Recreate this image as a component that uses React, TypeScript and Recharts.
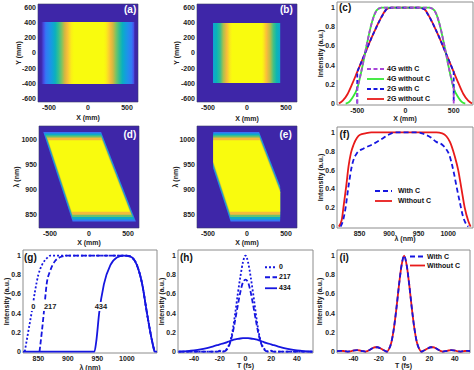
import React from 'react';
import {
  ComposedChart, Line, Area, XAxis, YAxis, ReferenceArea, ReferenceDot, Legend, CartesianGrid,
} from 'recharts';

const FONT = '"Liberation Sans", Arial, Helvetica, sans-serif';
const TEXT = '#222222';
const BG = '#3e26a8';
const LINE_FRAME = '#8c8c8c';
const HEAT_FRAME = '#3a3a6a';
const C_PURPLE = '#a846d8';
const C_GREEN = '#35e835';
const C_BLUE = '#1616e0';
const C_RED = '#e81a1a';

// ---------- data ----------
// (a) map: intensity across X; beam Y extent
const aX = [-600, -565, -540, -500, -460, -420, -380, -340, -300, -270, -240, -210, -180, 0, 200, 230, 260, 290, 320, 360, 400, 440, 480, 520, 560, 585, 600];
const aI = [0, 0.1, 0.2, 0.26, 0.33, 0.42, 0.52, 0.62, 0.75, 0.85, 0.93, 0.98, 1, 1, 1, 0.98, 0.93, 0.85, 0.75, 0.62, 0.52, 0.42, 0.33, 0.26, 0.2, 0.1, 0];
const aYRange = [-405, 405];

// (b) map: clipped profile
const bX = [-435, -390, -345, -303, -260, -217, -190, 190, 210, 250, 295, 338, 380, 425];
const bI = [0.36, 0.44, 0.52, 0.7, 0.86, 0.97, 1, 1, 0.97, 0.88, 0.72, 0.55, 0.45, 0.37];
const bYRange = [-392, 392];

// (d) map: nested parallelogram levels (intensity, top/bottom wavelength, corner X)
const dLevel = [0.2, 0.4, 0.6, 0.85, 1];
const dTop = [1014, 1011, 1007, 1003, 998];
const dBot = [837, 841, 846, 850, 856];
const dTL = [-585, -571, -554, -538, -521];
const dBL = [-210, -210, -213, -213, -220];
const dTR = [155, 155, 157, 159, 165];
const dBR = [600, 581, 561, 543, 522];
// (e) map: same levels clipped by aperture
const eCutL = -432;
const eCutR = 424;
const eLamL = [942, 945.6, 949.4, 953.1, 956];
const eLamR = [907, 903.7, 900.6, 897.4, 895];

// (c) spatial profiles
const cXRed = [-690, -650, -600, -550, -500, -450, -400, -350, -300, -250, -200, -150, 150, 200, 250, 300, 350, 400, 450, 500, 550, 600, 650, 690];
const c2GNoC = [0, 0.03, 0.1, 0.21, 0.33, 0.45, 0.57, 0.69, 0.8, 0.9, 0.98, 1, 1, 0.98, 0.9, 0.8, 0.69, 0.57, 0.45, 0.33, 0.21, 0.1, 0.03, 0];
const cXGreen = [-620, -580, -550, -500, -450, -400, -350, -300, -250, 250, 300, 350, 400, 450, 500, 550, 580, 620];
const c4GNoC = [0, 0.02, 0.06, 0.16, 0.37, 0.62, 0.84, 0.97, 1, 1, 0.97, 0.84, 0.62, 0.37, 0.16, 0.06, 0.02, 0];
const cXBlue = [-500, -500, -450, -400, -350, -300, -250, -200, -150, 150, 200, 250, 300, 350, 400, 450, 500, 500];
const c2GC = [0, 0.33, 0.45, 0.57, 0.69, 0.8, 0.9, 0.98, 1, 1, 0.98, 0.9, 0.8, 0.69, 0.57, 0.45, 0.33, 0];
const cXPurple = [-500, -500, -475, -450, -425, -400, -375, -350, -325, -300, -275, -250, 250, 275, 300, 325, 350, 375, 400, 425, 450, 475, 500, 500];
const c4GC = [0, 0.16, 0.26, 0.37, 0.5, 0.62, 0.74, 0.84, 0.92, 0.97, 0.99, 1, 1, 0.99, 0.97, 0.92, 0.84, 0.74, 0.62, 0.5, 0.37, 0.26, 0.16, 0];

// (f) spectra
const fXRed = [815, 820, 823, 827.6, 831.5, 835.5, 840, 845.6, 851, 860, 870, 980, 990, 997, 1003, 1011, 1017, 1022.5, 1028, 1034, 1038];
const fNoC = [0, 0.07, 0.21, 0.43, 0.64, 0.78, 0.87, 0.94, 0.975, 0.99, 1, 1, 0.99, 0.96, 0.9, 0.75, 0.6, 0.4, 0.2, 0.06, 0];
const fXBlue = [818, 822, 826, 831.5, 837, 845.6, 857, 871, 885, 899, 910, 950, 960, 970, 980, 990, 997, 1002, 1006, 1010, 1014, 1020, 1025, 1031, 1034];
const fWithC = [0, 0.06, 0.18, 0.43, 0.64, 0.78, 0.83, 0.87, 0.92, 0.975, 1, 1, 0.98, 0.95, 0.9, 0.87, 0.82, 0.76, 0.67, 0.56, 0.43, 0.25, 0.11, 0.02, 0];

// (g) local spectra at X = 0, 217, 434
const gX0 = [827, 833, 839, 844.4, 850, 856, 864, 870, 1000, 1006, 1017, 1026, 1034, 1043, 1047];
const g0 = [0, 0.21, 0.42, 0.63, 0.8, 0.9, 0.97, 1, 1, 0.99, 0.9, 0.7, 0.4, 0.1, 0];
const gX217 = [852, 856, 860, 864, 870, 878, 890, 898, 1000, 1006, 1017, 1026, 1034, 1043, 1047];
const g217 = [0, 0.21, 0.45, 0.7, 0.84, 0.94, 0.99, 1, 1, 0.99, 0.9, 0.7, 0.4, 0.1, 0];
const gX434 = [824, 945, 948, 953, 961, 972, 983, 994, 1006, 1017, 1026, 1034, 1043, 1047, 1051];
const g434 = [0, 0, 0.1, 0.4, 0.7, 0.9, 0.98, 1, 0.99, 0.9, 0.7, 0.4, 0.1, 0, 0];
const gAnnX = [841.5, 870, 956];
const gAnnY = [0.47, 0.47, 0.47];
const gAnnText = ['0', '217', '434'];

// (h) local pulses
const hT = [-52, -45, -40, -35, -30, -25, -22, -20, -18, -16, -14, -12, -10, -8, -6, -4, -2, 0, 2, 4, 6, 8, 10, 12, 14, 16, 18, 20, 22, 25, 30, 35, 40, 45, 52];
const h0 = [0, 0, 0, 0, 0, 0, 0, 0.01, 0, 0.01, 0.04, 0.1, 0.22, 0.4, 0.6, 0.78, 0.93, 1, 0.93, 0.78, 0.6, 0.4, 0.22, 0.1, 0.04, 0.01, 0, 0.01, 0, 0, 0, 0, 0, 0, 0];
const h217 = [0, 0, 0, 0, 0, 0, 0, 0.005, 0, 0.005, 0.03, 0.09, 0.19, 0.33, 0.48, 0.62, 0.72, 0.75, 0.72, 0.62, 0.48, 0.33, 0.19, 0.09, 0.03, 0.005, 0, 0.005, 0, 0, 0, 0, 0, 0, 0];
const h434 = [0, 0.005, 0.012, 0.022, 0.037, 0.055, 0.066, 0.075, 0.083, 0.09, 0.1, 0.11, 0.12, 0.127, 0.132, 0.136, 0.139, 0.14, 0.139, 0.136, 0.132, 0.127, 0.12, 0.11, 0.1, 0.09, 0.083, 0.075, 0.066, 0.055, 0.037, 0.022, 0.012, 0.005, 0];

// (i) global pulse
const iT = [-53, -50, -48, -46, -44.5, -43, -41, -39, -37, -35, -33, -30.5, -29, -27, -25, -23, -21, -19, -17, -15, -13.5, -12, -10, -8, -6, -4, -2, 0, 2, 4, 6, 8, 10, 12, 13.5, 15, 17, 19, 21, 23, 25, 27, 29, 30.5, 33, 35, 37, 39, 41, 43, 44.5, 46, 48, 50, 53];
const iWithC = [0.005, 0.007, 0.006, 0.003, 0, 0.002, 0.007, 0.012, 0.014, 0.011, 0.005, 0, 0.005, 0.018, 0.035, 0.045, 0.045, 0.035, 0.02, 0.006, 0, 0.025, 0.1, 0.25, 0.46, 0.7, 0.9, 1, 0.9, 0.7, 0.46, 0.25, 0.1, 0.025, 0, 0.006, 0.02, 0.035, 0.045, 0.045, 0.035, 0.018, 0.005, 0, 0.005, 0.011, 0.014, 0.012, 0.007, 0.002, 0, 0.003, 0.006, 0.007, 0.005];
const iNoC = [0.005, 0.007, 0.006, 0.003, 0, 0.002, 0.007, 0.012, 0.014, 0.011, 0.005, 0, 0.005, 0.018, 0.035, 0.045, 0.045, 0.035, 0.02, 0.006, 0, 0.025, 0.1, 0.25, 0.46, 0.7, 0.9, 1, 0.9, 0.7, 0.46, 0.25, 0.1, 0.025, 0, 0.006, 0.02, 0.035, 0.045, 0.045, 0.035, 0.018, 0.005, 0, 0.005, 0.011, 0.014, 0.012, 0.007, 0.002, 0, 0.003, 0.006, 0.007, 0.005];

// tick labels
const mmTicks = [-500, 0, 500];
const yMmTicks = [-600, -400, -200, 0, 200, 400, 600];
const lamTicks = [850, 900, 950, 1000];
const intTicks = [0, 0.2, 0.4, 0.6, 0.8, 1];
const fsTicks = [-40, -20, 0, 20, 40];

// legends
const cLegend = [
  { name: '4G with C', color: C_PURPLE, dash: '4 2.5' },
  { name: '4G without C', color: C_GREEN, dash: undefined },
  { name: '2G with C', color: C_BLUE, dash: '4 2.5' },
  { name: '2G without C', color: C_RED, dash: undefined },
];
const fLegend = [
  { name: 'With C', color: C_BLUE, dash: '5 3' },
  { name: 'Without C', color: C_RED, dash: undefined },
];
const hLegend = [
  { name: '0', color: C_BLUE, dash: '2 2' },
  { name: '217', color: C_BLUE, dash: '5 2.5' },
  { name: '434', color: C_BLUE, dash: undefined },
];
const iLegend = [
  { name: 'With C', color: C_BLUE, dash: '5 3' },
  { name: 'Without C', color: C_RED, dash: undefined },
];

// ---------- helpers (styling) ----------
const PARULA = ['#3E26A8', '#4754ED', '#2F80F7', '#129FDC', '#09B5B6', '#47C280', '#96C551', '#E3B43C', '#FCBE3C', '#F9FB0E'];
function hex(h: string) {
  return [1, 3, 5].map((k) => parseInt(h.slice(k, k + 2), 16));
}
function parula(v: number): string {
  const n = PARULA.length - 1;
  const t = Math.max(0, Math.min(1, v)) * n;
  const i = Math.min(Math.floor(t), n - 1);
  const f = t - i;
  const a = hex(PARULA[i]);
  const b = hex(PARULA[i + 1]);
  const c = a.map((ch, k) => Math.round(ch + (b[k] - ch) * f));
  return `rgb(${c[0]},${c[1]},${c[2]})`;
}
function gradStops(xs: number[], is: number[], factor = 1) {
  const x0 = xs[0];
  const x1 = xs[xs.length - 1];
  return xs.map((x, i) => (
    <stop key={i} offset={`${((x - x0) / (x1 - x0)) * 100}%`} stopColor={parula(is[i] * factor)} />
  ));
}
const pts = (xs: number[], ys: number[]) => xs.map((x, i) => ({ x, y: ys[i] }));

const tickStyle = { fontSize: 7, fontWeight: 700, fill: TEXT, fontFamily: FONT };
const labelStyle = { fontSize: 7, fontWeight: 700, fill: TEXT, fontFamily: FONT };

type LegendItem = { name: string; color: string; dash?: string };
function LegendBox({ items, lineW, gap, rowH, fontSize }: { items: LegendItem[]; lineW: number; gap: number; rowH: number; fontSize: number }) {
  return (
    <div style={{ fontFamily: FONT, fontWeight: 700, fontSize, color: '#111' }}>
      {items.map((it) => (
        <div key={it.name} style={{ display: 'flex', alignItems: 'center', height: rowH, whiteSpace: 'nowrap' }}>
          <svg width={lineW} height={rowH} style={{ display: 'block', flex: 'none' }}>
            <line x1={0} x2={lineW} y1={rowH / 2} y2={rowH / 2} stroke={it.color} strokeWidth={1.8} strokeDasharray={it.dash} />
          </svg>
          <span style={{ marginLeft: gap, lineHeight: `${rowH}px` }}>{it.name}</span>
        </div>
      ))}
    </div>
  );
}

const annotationShape = (text: string) => (props: any) => {
  const { cx, cy } = props;
  const w = text.length * 4.3 + 2;
  return (
    <g>
      <rect x={cx - w / 2} y={cy - 4.5} width={w} height={9} fill="#ffffff" />
      <text x={cx} y={cy} dy="0.35em" textAnchor="middle" style={{ fontSize: 7.5, fontWeight: 700, fill: TEXT, fontFamily: FONT }}>
        {text}
      </text>
    </g>
  );
};

type PanelProps = {
  cx: number; cy: number; yw: number; pw: number; ph: number; xh: number; r?: number;
  xDomain: [number, number]; yDomain: [number, number]; xTicks: number[]; yTicks: number[];
  xLabel: string; yLabel: string; xLabelOffset: number; yLabelOffset: number;
  frame: string; frameWidth?: number; bg?: string; children?: React.ReactNode;
};

function Panel(p: PanelProps) {
  const r = p.r ?? 2;
  return (
    <div style={{ position: 'absolute', left: p.cx, top: p.cy }}>
      <ComposedChart width={p.yw + p.pw + r} height={2 + p.ph + p.xh} margin={{ top: 2, right: r, bottom: 0, left: 0 }}>
        {p.bg ? <CartesianGrid horizontal={false} vertical={false} fill={p.bg} fillOpacity={1} stroke="none" /> : null}
        <XAxis
          type="number" dataKey="x" domain={p.xDomain} allowDataOverflow ticks={p.xTicks} interval={0}
          tickLine={false} axisLine={false} tickSize={0} tickMargin={3} tick={tickStyle} height={p.xh}
          label={{ value: p.xLabel, position: 'insideBottom', offset: p.xLabelOffset, style: labelStyle }}
        />
        <YAxis
          type="number" domain={p.yDomain} allowDataOverflow ticks={p.yTicks} interval={0}
          tickLine={false} axisLine={false} tickSize={0} tickMargin={2} tick={tickStyle} width={p.yw}
          label={{ value: p.yLabel, angle: -90, position: 'insideLeft', offset: p.yLabelOffset, style: { ...labelStyle, textAnchor: 'middle' } }}
        />
        {p.children}
        <ReferenceArea
          x1={p.xDomain[0]} x2={p.xDomain[1]} y1={p.yDomain[0]} y2={p.yDomain[1]}
          fill="none" fillOpacity={0} stroke={p.frame} strokeWidth={p.frameWidth ?? 1} ifOverflow="visible"
        />
      </ComposedChart>
    </div>
  );
}

function PanelTag({ text, x, y, color }: { text: string; x: number; y: number; color: string }) {
  return (
    <div style={{ position: 'absolute', left: x, top: y, fontFamily: FONT, fontWeight: 700, fontSize: 10, lineHeight: '12px', color }}>
      {text}
    </div>
  );
}

const Y_LINE: [number, number] = [-0.015, 1.058];

export default function App() {
  const last = (a: number[]) => a[a.length - 1];
  return (
    <div style={{ position: 'absolute', left: 0, top: 0, width: 474, height: 370, background: '#fff', overflow: 'hidden' }}>
      {/* (a) */}
      <Panel cx={0} cy={2} yw={38} pw={100} ph={98} xh={22} r={3} xDomain={[-640, 640]} yDomain={[-640, 640]}
        xTicks={mmTicks} yTicks={yMmTicks} xLabel="X (mm)" yLabel="Y (mm)" xLabelOffset={4.5} yLabelOffset={19}
        bg={BG} frame={HEAT_FRAME} frameWidth={0.6}>
        <defs>
          <linearGradient id="gA" x1="0" y1="0" x2="1" y2="0">{gradStops(aX, aI)}</linearGradient>
        </defs>
        <Area type="linear" dataKey="r" isAnimationActive={false} dot={false} activeDot={false}
          stroke="none" fill="url(#gA)" fillOpacity={1}
          data={[
            { x: aX[0], r: [aYRange[0], aYRange[1]] },
            { x: last(aX), r: [aYRange[0], aYRange[1]] },
          ]} />
      </Panel>

      {/* (b) */}
      <Panel cx={155} cy={2} yw={42} pw={100} ph={98} xh={22} r={3} xDomain={[-640, 640]} yDomain={[-640, 640]}
        xTicks={mmTicks} yTicks={yMmTicks} xLabel="X (mm)" yLabel="Y (mm)" xLabelOffset={3.5} yLabelOffset={21.7}
        bg={BG} frame={HEAT_FRAME} frameWidth={0.6}>
        <defs>
          <linearGradient id="gB" x1="0" y1="0" x2="1" y2="0">{gradStops(bX, bI)}</linearGradient>
        </defs>
        <Area type="linear" dataKey="r" isAnimationActive={false} dot={false} activeDot={false}
          stroke="none" fill="url(#gB)" fillOpacity={1}
          data={[
            { x: bX[0], r: [bYRange[0], bYRange[1]] },
            { x: last(bX), r: [bYRange[0], bYRange[1]] },
          ]} />
      </Panel>

      {/* (c) */}
      <Panel cx={310} cy={0} yw={27} pw={136} ph={103} xh={20} r={1} xDomain={[-710, 700]} yDomain={Y_LINE}
        xTicks={mmTicks} yTicks={intTicks} xLabel="X (mm)" yLabel="Intensity (a.u.)" xLabelOffset={4.5} yLabelOffset={11}
        frame={LINE_FRAME}>
        <Line data={pts(cXRed, c2GNoC)} dataKey="y" type="monotone" stroke={C_RED} strokeWidth={1.8} dot={false} activeDot={false} isAnimationActive={false} />
        <Line data={pts(cXGreen, c4GNoC)} dataKey="y" type="monotone" stroke={C_GREEN} strokeWidth={1.8} dot={false} activeDot={false} isAnimationActive={false} />
        <Line data={pts(cXBlue, c2GC)} dataKey="y" type="linear" stroke={C_BLUE} strokeWidth={1.8} strokeDasharray="4 2.5" dot={false} activeDot={false} isAnimationActive={false} />
        <Line data={pts(cXPurple, c4GC)} dataKey="y" type="linear" stroke={C_PURPLE} strokeWidth={1.8} strokeDasharray="4 2.5" dot={false} activeDot={false} isAnimationActive={false} />
        <Legend layout="horizontal" verticalAlign="middle" align="center"
          wrapperStyle={{ left: 57, top: 64, width: 110, height: 40 }}
          content={() => <LegendBox items={cLegend} lineW={17} gap={3} rowH={10} fontSize={7} />} />
      </Panel>

      {/* (d) */}
      <Panel cx={0} cy={124} yw={39} pw={100} ph={102} xh={22} r={3} xDomain={[-640, 640]} yDomain={[824, 1026]}
        xTicks={mmTicks} yTicks={lamTicks} xLabel="X (mm)" yLabel="λ (nm)" xLabelOffset={5.2} yLabelOffset={16.7}
        bg={BG} frame={HEAT_FRAME} frameWidth={0.6}>
        {dLevel.map((lv, i) => (
          <Area key={`d${i}`} type="linear" dataKey="r" isAnimationActive={false} dot={false} activeDot={false}
            stroke="none" fill={parula(lv)} fillOpacity={1}
            data={[
              { x: dTL[i], r: [dTop[i], dTop[i]] },
              { x: dBL[i], r: [dBot[i], dTop[i]] },
              { x: dTR[i], r: [dBot[i], dTop[i]] },
              { x: dBR[i], r: [dBot[i], dBot[i]] },
            ]} />
        ))}
      </Panel>

      {/* (e) */}
      <Panel cx={155} cy={124} yw={42} pw={100} ph={102} xh={22} r={3} xDomain={[-640, 640]} yDomain={[824, 1026]}
        xTicks={mmTicks} yTicks={lamTicks} xLabel="X (mm)" yLabel="λ (nm)" xLabelOffset={5.2} yLabelOffset={20.7}
        bg={BG} frame={HEAT_FRAME} frameWidth={0.6}>
        {dLevel.map((lv, i) => (
          <Area key={`e${i}`} type="linear" dataKey="r" isAnimationActive={false} dot={false} activeDot={false}
            stroke="none" fill={parula(lv)} fillOpacity={1}
            data={[
              { x: eCutL, r: [eLamL[i], dTop[i]] },
              { x: dBL[i], r: [dBot[i], dTop[i]] },
              { x: dTR[i], r: [dBot[i], dTop[i]] },
              { x: eCutR, r: [dBot[i], eLamR[i]] },
            ]} />
        ))}
      </Panel>

      {/* (f) */}
      <Panel cx={310} cy={125} yw={27} pw={136} ph={101} xh={20} r={1} xDomain={[812, 1042]} yDomain={Y_LINE}
        xTicks={lamTicks} yTicks={intTicks} xLabel="λ (nm)" yLabel="Intensity (a.u.)" xLabelOffset={7.2} yLabelOffset={11}
        frame={LINE_FRAME}>
        <Line data={pts(fXRed, fNoC)} dataKey="y" type="monotone" stroke={C_RED} strokeWidth={1.8} dot={false} activeDot={false} isAnimationActive={false} />
        <Line data={pts(fXBlue, fWithC)} dataKey="y" type="monotone" stroke={C_BLUE} strokeWidth={1.8} strokeDasharray="5 3" dot={false} activeDot={false} isAnimationActive={false} />
        <Legend layout="horizontal" verticalAlign="middle" align="center"
          wrapperStyle={{ left: 65, top: 61, width: 80, height: 20 }}
          content={() => <LegendBox items={fLegend} lineW={17} gap={6} rowH={10} fontSize={7} />} />
      </Panel>

      {/* (g) */}
      <Panel cx={0} cy={248} yw={23} pw={134} ph={103} xh={19} r={2} xDomain={[824, 1051]} yDomain={Y_LINE}
        xTicks={lamTicks} yTicks={intTicks} xLabel="λ (nm)" yLabel="Intensity (a.u.)" xLabelOffset={1.8} yLabelOffset={6.7}
        frame={LINE_FRAME}>
        <Line data={pts(gX434, g434)} dataKey="y" type="monotone" stroke={C_BLUE} strokeWidth={1.8} dot={false} activeDot={false} isAnimationActive={false} />
        <Line data={pts(gX217, g217)} dataKey="y" type="monotone" stroke={C_BLUE} strokeWidth={1.8} strokeDasharray="5 2.5" dot={false} activeDot={false} isAnimationActive={false} />
        <Line data={pts(gX0, g0)} dataKey="y" type="monotone" stroke={C_BLUE} strokeWidth={1.8} strokeDasharray="2 2" dot={false} activeDot={false} isAnimationActive={false} />
        {gAnnX.map((x, i) => (
          <ReferenceDot key={`ann${i}`} x={x} y={gAnnY[i]} r={0} ifOverflow="visible" shape={annotationShape(gAnnText[i])} />
        ))}
      </Panel>

      {/* (h) */}
      <Panel cx={155} cy={248} yw={23} pw={135} ph={103} xh={19} r={2} xDomain={[-52.5, 52.5]} yDomain={Y_LINE}
        xTicks={fsTicks} yTicks={intTicks} xLabel="T (fs)" yLabel="Intensity (a.u.)" xLabelOffset={3.8} yLabelOffset={6.7}
        frame={LINE_FRAME}>
        <Line data={pts(hT, h434)} dataKey="y" type="monotone" stroke={C_BLUE} strokeWidth={1.8} dot={false} activeDot={false} isAnimationActive={false} />
        <Line data={pts(hT, h217)} dataKey="y" type="monotone" stroke={C_BLUE} strokeWidth={1.8} strokeDasharray="5 2.5" dot={false} activeDot={false} isAnimationActive={false} />
        <Line data={pts(hT, h0)} dataKey="y" type="monotone" stroke={C_BLUE} strokeWidth={1.8} strokeDasharray="2 2" dot={false} activeDot={false} isAnimationActive={false} />
        <Legend layout="horizontal" verticalAlign="middle" align="center"
          wrapperStyle={{ left: 110, top: 13.5, width: 50, height: 32 }}
          content={() => <LegendBox items={hLegend} lineW={12} gap={2} rowH={10.5} fontSize={7} />} />
      </Panel>

      {/* (i) */}
      <Panel cx={310} cy={248} yw={27} pw={133} ph={103} xh={19} r={4} xDomain={[-53, 52]} yDomain={Y_LINE}
        xTicks={fsTicks} yTicks={intTicks} xLabel="T (fs)" yLabel="Intensity (a.u.)" xLabelOffset={3.8} yLabelOffset={9.3}
        frame={LINE_FRAME}>
        <Line data={pts(iT, iNoC)} dataKey="y" type="monotone" stroke={C_RED} strokeWidth={1.8} dot={false} activeDot={false} isAnimationActive={false} />
        <Line data={pts(iT, iWithC)} dataKey="y" type="monotone" stroke={C_BLUE} strokeWidth={1.8} strokeDasharray="5 3" dot={false} activeDot={false} isAnimationActive={false} />
        <Legend layout="horizontal" verticalAlign="middle" align="center"
          wrapperStyle={{ left: 100, top: 4.2, width: 64, height: 18 }}
          content={() => <LegendBox items={iLegend} lineW={15} gap={2} rowH={9} fontSize={7} />} />
      </Panel>

      <PanelTag text="(a)" x={124} y={4} color="#ffffff" />
      <PanelTag text="(b)" x={280} y={4} color="#ffffff" />
      <PanelTag text="(c)" x={339} y={2.3} color="#111111" />
      <PanelTag text="(d)" x={123.5} y={129} color="#ffffff" />
      <PanelTag text="(e)" x={279.5} y={129} color="#ffffff" />
      <PanelTag text="(f)" x={339.5} y={129} color="#111111" />
      <PanelTag text="(g)" x={24} y={252.3} color="#111111" />
      <PanelTag text="(h)" x={180} y={252.3} color="#111111" />
      <PanelTag text="(i)" x={339.5} y={252.3} color="#111111" />
    </div>
  );
}
